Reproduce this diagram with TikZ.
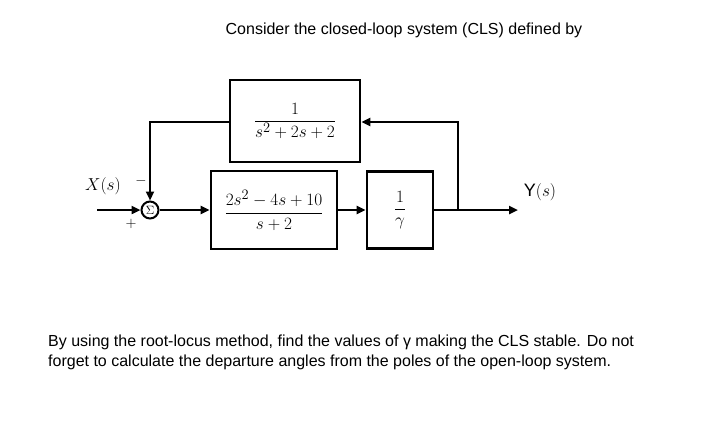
\documentclass[tikz,border=0pt]{standalone}
\usepackage{fontspec}
\setmainfont{Liberation Sans}
\usetikzlibrary{arrows.meta}
\begin{document}
\begin{tikzpicture}[x=1pt,y=-1pt,
  blk/.style={draw,line width=2.6pt,inner sep=0pt,font=\fontsize{19}{22}\selectfont},
  wire/.style={line width=2.6pt},
  arr/.style={wire,-{Triangle[length=9pt,width=8pt]}},
  txt/.style={font=\fontsize{16}{19}\selectfont,anchor=west,inner sep=0pt}]
\useasboundingbox (0,0) rectangle (702,432);
\node[font=\fontsize{16}{19}\selectfont] (title) at (404,30) {Consider the closed-loop system (CLS) defined by};
\node[blk,minimum width=130pt,minimum height=82pt] (H) at (295,121) {$\displaystyle\frac{1}{s^2+2s+2}$};
\node[blk,minimum width=126pt,minimum height=78pt] (G) at (274,210) {$\displaystyle\frac{2s^2-4s+10}{s+2}$};
\node[blk,minimum width=66pt,minimum height=77pt] (K) at (400,210) {$\displaystyle\frac{1}{\gamma}$};
\node[draw,circle,line width=2pt,minimum size=17pt,inner sep=0pt,font=\fontsize{12}{12}\selectfont] (S) at (150,210) {$\Sigma$};
\coordinate (in) at (97,210);
\coordinate (out) at (518,210);
\coordinate (tap) at (458,210);
\draw[arr] (in) -- (S.west);
\draw[arr] (S.east) -- (G.west);
\draw[arr] (G.east) -- (K.west);
\draw[arr] (K.east) -- (out);
\draw[arr] (tap) |- (H.east |- 0,122);
\draw[arr] (H.west |- 0,122) -| (S.north);
\node[font=\fontsize{18}{20}\selectfont] (X) at (103,186) {$X(s)$};
\node[font=\fontsize{15}{18}\selectfont] (minus) at (141,181) {$-$};
\node[font=\fontsize{15}{18}\selectfont] (plus) at (131,224) {$+$};
\node[font=\fontsize{18}{20}\selectfont] (Y) at (540,192) {Y$(s)$};
\node[txt] (p1) at (48,342) {By using the root-locus method, find the values of γ making the CLS stable. Do not};
\node[txt] (p2) at (48,362) {forget to calculate the departure angles from the poles of the open-loop system.};
\end{tikzpicture}
\end{document}
